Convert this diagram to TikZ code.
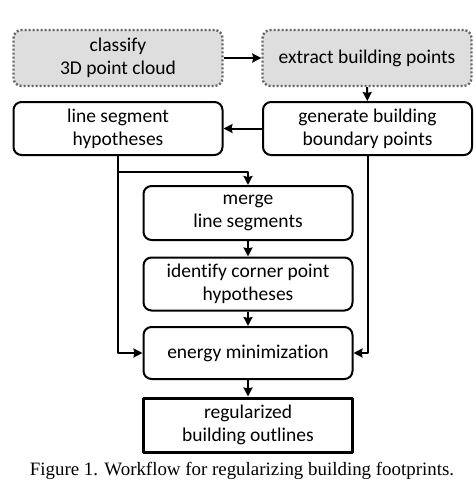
\documentclass[tikz,border=0pt]{standalone}
\usepackage{fontspec}
\setmainfont[Ligatures=NoCommon]{Carlito}
\newfontfamily\capfont{Liberation Serif}
\usetikzlibrary{positioning,arrows.meta}
\begin{document}
\begin{tikzpicture}[x=1pt,y=-1pt,>={Stealth[length=9pt,width=9pt,inset=1pt]}, line join=round,
	font=\fontsize{19.5}{23}\selectfont,
	box/.style={draw, line width=2pt, rounded corners=8pt, align=center, minimum width=209pt, minimum height=53pt, inner sep=0pt},
	prebox/.style={box, draw=black!60, dotted, line width=2.4pt, fill=black!13},
	outbox/.style={box, rounded corners=0pt, line width=3pt},
	arr/.style={->, line width=2pt}]
	\useasboundingbox (0,0) rectangle (474,482);
	\node[prebox, minimum height=56pt] (classify) at (118,58) {classify\\3D point cloud};
	\node[prebox, minimum height=56pt] (extract) at (367,58) {extract building points};
	\node[box] (lineseg) at (118,128.5) {line segment\\hypotheses};
	\node[box] (generate) at (367.5,128.5) {generate building\\boundary points};
	\node[box, minimum height=54pt] (merge) at (248,213) {merge\\line segments};
	\node[box] (corner) at (248,284) {identify corner point\\hypotheses};
	\node[box, minimum height=52pt] (energy) at (248,353) {energy minimization};
	\node[outbox, minimum height=54pt] (result) at (248,425) {regularized\\building outlines};
	\node[font=\capfont\fontsize{18.9}{20}\selectfont] (caption) at (242,471) {Figure 1. Workflow for regularizing building footprints.};
	%arrows
	\draw[arr] (classify) -- (extract);
	\draw[arr] (extract) -- (generate);
	\draw[arr] (generate) -- (lineseg);
	\draw[arr] (lineseg.south) -- ++(0,16) -| (merge.north);
	\draw[arr] (merge) -- (corner);
	\draw[arr] (corner) -- (energy);
	\draw[arr] (energy) -- (result);
	\draw[arr] (lineseg.south) |- (energy.west);
	\draw[arr] (generate.south) |- (energy.east);
\end{tikzpicture}
\end{document}
